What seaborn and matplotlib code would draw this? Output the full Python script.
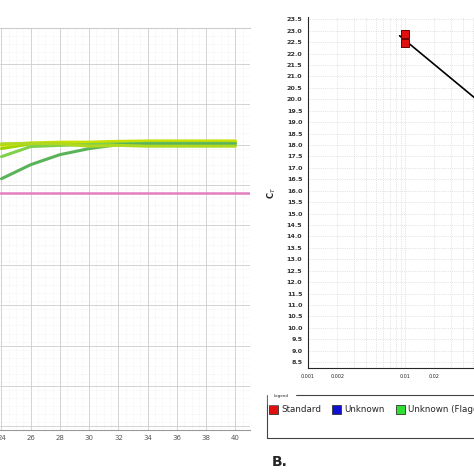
import numpy as np
import pandas as pd
import seaborn as sns
import matplotlib.pyplot as plt
from matplotlib.patches import Rectangle
from matplotlib.ticker import FixedLocator, NullFormatter

sns.set_style("white")

# amplification curves (cycle vs normalised fluorescence)
cycles = [24, 26, 28, 30, 32, 34, 36, 38, 40]
curve_a = [0.700, 0.712, 0.714, 0.715, 0.716, 0.717, 0.717, 0.717, 0.717]
curve_b = [0.708, 0.714, 0.716, 0.716, 0.718, 0.719, 0.719, 0.719, 0.719]
curve_c = [0.680, 0.705, 0.708, 0.710, 0.712, 0.713, 0.713, 0.713, 0.713]
curve_d = [0.625, 0.660, 0.685, 0.700, 0.710, 0.712, 0.712, 0.712, 0.712]
curve_e = [0.712, 0.713, 0.712, 0.706, 0.708, 0.706, 0.706, 0.706, 0.706]
threshold = 0.59

# standard curve
std_qty = [0.01, 0.01]
std_ct = [22.85, 22.45]
fit_qty = [0.0088, 0.06]
fit_ct = [22.78, 19.85]

fig = plt.figure(figsize=(4.74, 4.74), dpi=100)

# ---- left panel
ax1 = fig.add_axes([0, 1 - 430 / 474, 250 / 474, 402 / 474])
df = pd.DataFrame({"cycle": cycles * 5,
                   "rn": curve_a + curve_b + curve_c + curve_d + curve_e,
                   "well": sum([[w] * len(cycles) for w in "abcde"], [])})
pal = {"a": "#9fd400", "b": "#c8e000", "c": "#7fd04a", "d": "#5ab35a", "e": "#b0d820"}
sns.lineplot(data=df, x="cycle", y="rn", hue="well", palette=pal, lw=2.2,
             legend=False, ax=ax1)
ax1.axhline(threshold, color="#e27fc0", lw=1.8)
ax1.set_xlim(23.9, 41)
ax1.set_ylim(0, 1)
ax1.set_xticks(range(24, 41, 2))
ax1.xaxis.set_minor_locator(FixedLocator(np.arange(24, 41, 0.5)))
ax1.yaxis.set_major_locator(FixedLocator(np.arange(0.01, 1, 0.1)))
ax1.yaxis.set_minor_locator(FixedLocator(np.arange(0, 1, 0.02)))
ax1.set_yticklabels([])
ax1.tick_params(axis="x", labelsize=5, colors="#555", length=0)
ax1.tick_params(axis="y", length=0)
ax1.grid(which="major", color="#cccccc", lw=0.6)
ax1.grid(which="minor", color="#e6e6e6", lw=0.4, ls=":")
ax1.set_xlabel("")
ax1.set_ylabel("")
for s in ["left", "right"]:
    ax1.spines[s].set_visible(False)
ax1.spines["top"].set_color("#cccccc")
ax1.spines["bottom"].set_color("#999999")

# ---- right panel
ax2 = fig.add_axes([308 / 474, 1 - 368 / 474, 260 / 474, 351 / 474])
ax2.set_xscale("log")
sns.lineplot(x=fit_qty, y=fit_ct, color="black", lw=1.2, ax=ax2)
sns.scatterplot(x=std_qty, y=std_ct, marker="s", s=28, color="#e01010",
                edgecolor="#700000", linewidth=0.7, ax=ax2, zorder=3)
ax2.set_xlim(0.001, 10 ** (-3 + 260 / 97))
ax2.set_ylim(8.24, 23.6)
ax2.set_yticks(np.arange(8.5, 23.51, 0.5))
ax2.set_yticklabels([f"{v:.1f}" for v in np.arange(8.5, 23.51, 0.5)],
                    fontsize=4.6, fontweight="bold", color="#333")
ax2.set_xticks([0.001, 0.002, 0.01, 0.02])
ax2.set_xticklabels(["0.001", "0.002", "0.01", "0.02"], fontsize=3.5)
ax2.xaxis.set_minor_formatter(NullFormatter())
ax2.tick_params(length=2, pad=2)
ax2.grid(which="both", color="#cccccc", lw=0.5, ls=":")
ax2.set_ylabel("C$_T$", fontsize=6, fontweight="bold", labelpad=6)
ax2.spines["top"].set_visible(False)
ax2.spines["right"].set_visible(False)

# legend box
fig.patches.append(Rectangle((267 / 474, 1 - 438 / 474), 0.5, 43 / 474,
                             transform=fig.transFigure, fill=False,
                             edgecolor="#444", lw=0.8))
fig.text(274 / 474, 1 - 396 / 474, "Legend", fontsize=3, va="center",
         backgroundcolor="white")
items = [("Standard", "#e01010", 269), ("Unknown", "#1010d0", 332),
         ("Unknown (Flagged)", "#30e030", 396)]
for label, col, px in items:
    fig.patches.append(Rectangle((px / 474, 1 - 414 / 474), 9 / 474, 9 / 474,
                                 transform=fig.transFigure, facecolor=col,
                                 edgecolor="#333", lw=0.6))
    fig.text((px + 12) / 474, 1 - 409.5 / 474, label, fontsize=6.3, va="center")
fig.text(272 / 474, 1 - 462 / 474, "B.", fontsize=10, fontweight="bold", va="center")

fig.savefig("out.png", dpi=100)
